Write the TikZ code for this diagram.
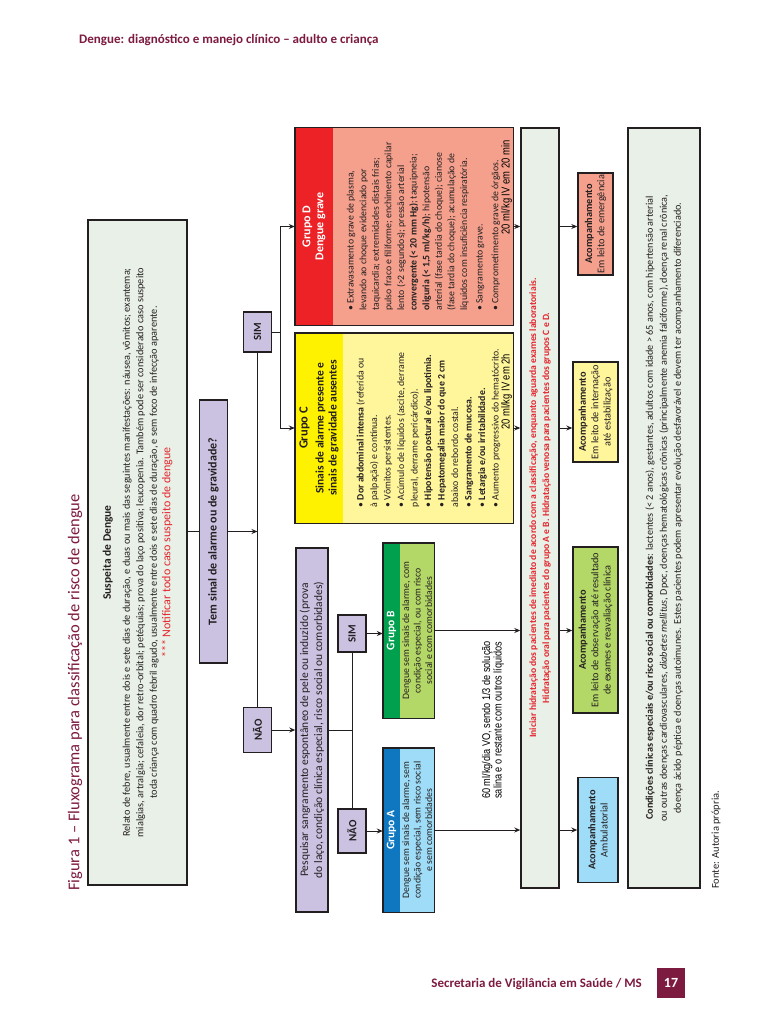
\documentclass[tikz,border=0pt]{standalone}
\usepackage{fontspec}
\setmainfont{Carlito}
\newfontfamily\narrowfont[FakeStretch=0.82]{Liberation Sans}
\usetikzlibrary{arrows.meta,positioning,calc}

\definecolor{maroon}{HTML}{7D1A3F}
\definecolor{inkgray}{HTML}{231F20}
\definecolor{palegreen}{HTML}{E9F0E7}
\definecolor{lilac}{HTML}{CBC2E2}
\definecolor{blueHead}{HTML}{0E77C0}
\definecolor{blueBody}{HTML}{9EDCF7}
\definecolor{greenHead}{HTML}{00A04F}
\definecolor{greenBody}{HTML}{B4D867}
\definecolor{yellowHead}{HTML}{FFF200}
\definecolor{yellowBody}{HTML}{FFF59B}
\definecolor{redHead}{HTML}{EC2227}
\definecolor{redBody}{HTML}{F5A08D}
\definecolor{alertred}{HTML}{E3262D}

\tikzset{
  rbox/.style={rotate=90, inner sep=2pt, align=center, text=inkgray},
  panel/.style={rbox, draw=inkgray, line width=1.4pt, fill=palegreen},
  query/.style={rbox, draw=inkgray, line width=1.4pt, fill=lilac},
  answer/.style={query, font=\bfseries\fontsize{11}{13}\selectfont, minimum height=28pt},
  head/.style={rbox, inner sep=0pt, text=white, font=\bfseries\fontsize{11.5}{13}\selectfont},
  body/.style={rbox, anchor=north, font=\fontsize{9.8}{11.5}\selectfont},
  frame/.style={draw=inkgray, line width=1.4pt},
  follow/.style={rbox, draw=inkgray, line width=1.4pt, font=\fontsize{10.3}{12.3}\selectfont},
  link/.style={draw=inkgray, line width=1pt},
  arr/.style={link, -{Stealth[length=6pt,width=5pt]}},
  dose/.style={rotate=90, inner sep=0pt, font=\narrowfont\fontsize{11.5}{11}\selectfont},
}

\begin{document}
\begin{tikzpicture}[x=1pt,y=-1pt]
  \useasboundingbox (0,0) rectangle (768,1024);
  \fill[white] (0,0) rectangle (768,1024);

  % page furniture
  \node[anchor=west, inner sep=0pt, text=maroon, font=\bfseries\fontsize{13}{15}\selectfont] (runhead) at (79,40) {Dengue: diagnóstico e manejo clínico – adulto e criança};
  \node[rotate=90, anchor=west, inner sep=0pt, text=maroon, font=\fontsize{16.5}{18}\selectfont] (figtitle) at (75,891) {Figura 1 – Fluxograma para classificação de risco de dengue};
  \node[rotate=90, anchor=west, inner sep=0pt, text=inkgray, font=\fontsize{10.5}{12}\selectfont] (fonte) at (716,889) {Fonte: Autoria própria.};
  \node[anchor=east, inner sep=0pt, text=maroon, font=\bfseries\fontsize{13}{15}\selectfont] (foot) at (642,984) {Secretaria de Vigilância em Saúde / MS};
  \node[fill=maroon, text=white, inner sep=0pt, font=\bfseries\fontsize{14}{16}\selectfont, minimum width=28pt, minimum height=30pt] (pgnum) at (671,983) {17};

  % suspicion and first question
  \node[panel, minimum width=665pt, minimum height=99pt, font=\fontsize{10.3}{13.5}\selectfont] (susp) at (137.5,552.5)
    {{\bfseries\fontsize{11.5}{13.5}\selectfont Suspeita de Dengue}\\[5.5pt]
     Relato de febre, usualmente entre dois e sete dias de duração, e duas ou mais das seguintes manifestações: náusea, vômitos; exantema;\\
     mialgias, artralgia; cefaleia, dor retro-orbital; petéquias; prova do laço positiva; leucopenia. Também pode ser considerado caso suspeito\\
     toda criança com quadro febril agudo, usualmente entre dois e sete dias de duração, e sem foco de infecção aparente.\\
     \textcolor{alertred}{\fontsize{12}{13.5}\selectfont *** Notificar todo caso suspeito de dengue}};
  \node[query, minimum width=263pt, minimum height=28pt, font=\bfseries\fontsize{12}{14}\selectfont] (alarm) at (213.5,531.5) {Tem sinal de alarme ou de gravidade?};
  \node[answer, minimum width=40pt] (sim1) at (257.5,332) {SIM};
  \node[answer, minimum width=45pt] (nao1) at (257.5,730) {NÃO};

  % second question
  \node[query, minimum width=364pt, minimum height=32pt, font=\fontsize{11.5}{14}\selectfont] (probe) at (312,730)
    {Pesquisar sangramento espontâneo de pele ou induzido (prova\\do laço, condição clínica especial, risco social ou comorbidades)};
  \node[answer, minimum width=37pt] (sim2) at (352,633.5) {SIM};
  \node[answer, minimum width=44pt] (nao2) at (352,831) {NÃO};

  % group A
  \node[head, fill=blueHead, minimum width=164pt, minimum height=17pt] (hdA) at (391.5,830) {Grupo A};
  \node[body, fill=blueBody, minimum width=164pt, minimum height=32pt] (bdA) at (hdA.south)
    {Dengue sem sinais de alarme, sem\\condição especial, sem risco social\\e sem comorbidades};
  \draw[frame] (hdA.north west) rectangle (bdA.south east);

  % group B
  \node[head, fill=greenHead, minimum width=175pt, minimum height=17pt] (hdB) at (391.5,630.5) {Grupo B};
  \node[body, fill=greenBody, minimum width=175pt, minimum height=32pt] (bdB) at (hdB.south)
    {Dengue sem sinais de alarme, com\\condição especial, ou com risco\\social e com comorbidades};
  \draw[frame] (hdB.north west) rectangle (bdB.south east);

  % group C
  \node[head, fill=yellowHead, text=inkgray, minimum width=190pt, minimum height=48pt] (hdC) at (319,428)
    {{\fontsize{12.5}{13}\selectfont Grupo C}\\[3pt]Sinais de alarme presente e\\sinais de gravidade ausentes};
  \node[body, fill=yellowBody, align=left, minimum width=190pt, minimum height=170pt, font=\fontsize{9.8}{13.5}\selectfont] (bdC) at (hdC.south)
    {• \textbf{Dor abdominal intensa} (referida ou\\
     à palpação) e contínua.\\
     • Vômitos persistentes.\\
     • Acúmulo de líquidos (ascite, derrame\\
     pleural, derrame pericárdico).\\
     • \textbf{Hipotensão postural e/ou lipotimia.}\\
     • \textbf{Hepatomegalia maior do que 2 cm}\\
     abaixo do rebordo costal.\\
     • \textbf{Sangramento de mucosa.}\\
     • \textbf{Letargia e/ou irritabilidade.}\\
     • Aumento progressivo do hematócrito.};
  \draw[frame] (hdC.north west) rectangle (bdC.south east);

  % group D
  \node[head, fill=redHead, minimum width=197pt, minimum height=38pt, font=\bfseries\fontsize{12}{13}\selectfont] (hdD) at (314,226.5)
    {Grupo D\\Dengue grave};
  \node[body, fill=redBody, align=left, minimum width=197pt, minimum height=180pt, font=\fontsize{9.8}{12.6}\selectfont] (bdD) at (hdD.south)
    {• Extravasamento grave de plasma,\\
     levando ao choque evidenciado por\\
     taquicardia; extremidades distais frias;\\
     pulso fraco e filiforme; enchimento capilar\\
     lento (>2 segundos); pressão arterial\\
     \textbf{convergente (< 20 mm Hg)}; taquipneia;\\
     \textbf{oliguria (< 1,5 ml/kg/h)}; hipotensão\\
     arterial (fase tardia do choque); cianose\\
     (fase tardia do choque); acumulação de\\
     líquidos com insuficiência respiratória.\\[3pt]
     • Sangramento grave.\\[3pt]
     • Comprometimento grave de órgãos.};
  \draw[frame] (hdD.north west) rectangle (bdD.south east);

  % hydration strip
  \node[panel, minimum width=760pt, minimum height=38pt, text=alertred, font=\bfseries\fontsize{9.6}{13}\selectfont] (hydr) at (540,508)
    {Iniciar hidratação dos pacientes de imediato de acordo com a classificação, enquanto aguarda exames laboratoriais.\\
     Hidratação oral para pacientes do grupo A e B. Hidratação venosa para pacientes dos grupos C e D.};

  % follow-up
  \node[follow, fill=blueBody, minimum width=105pt, minimum height=40pt] (acA) at (598,830) {\textbf{Acompanhamento}\\Ambulatorial};
  \node[follow, fill=greenBody, minimum width=166pt, minimum height=45pt] (acB) at (595.5,630) {\textbf{Acompanhamento}\\Em leito de observação até resultado\\de exames e reavaliação clínica};
  \node[follow, fill=yellowBody, minimum width=100pt, minimum height=45pt] (acC) at (595.5,412) {\textbf{Acompanhamento}\\Em leito de internação\\até estabilização};
  \node[follow, fill=redBody, minimum width=92pt, minimum height=35pt] (acD) at (595.5,224) {\textbf{Acompanhamento}\\Em leito de emergência};

  % conditions
  \node[panel, minimum width=760pt, minimum height=72pt, font=\fontsize{10.2}{14}\selectfont] (cond) at (664,508)
    {\textbf{Condições clínicas especiais e/ou risco social ou comorbidades}: lactentes (< 2 anos), gestantes, adultos com idade > 65 anos, com hipertensão arterial\\
     ou outras doenças cardiovasculares, \textit{diabetes mellitus}, Dpoc, doenças hematológicas crônicas (principalmente anemia falciforme), doença renal crônica,\\
     doença ácido péptica e doenças autoimunes. Estes pacientes podem apresentar evolução desfavorável e devem ter acompanhamento diferenciado.};

  % dose labels
  \node[dose, anchor=west] (doseC) at ($(bdC.south)+(-7,2)$) {20 ml/kg IV em 2h};
  \node[dose, anchor=west] (doseD) at ($(bdD.south)+(-7,8)$) {20 ml/kg IV em 20 min};
  \node[dose, align=center, font=\narrowfont\fontsize{11.2}{11.5}\selectfont] (doseAB) at (493,720)
    {60 ml/kg/dia VO, sendo 1/3 de solução\\salina e o restante com outros líquidos};

  % connectors
  \draw[link] (susp.south |- alarm.north) -- (alarm.north);
  \draw[link] (sim1.west) -- (nao1.east);
  \draw[arr] (alarm.south) -- (alarm.south -| sim1.west);
  \coordinate (forkCD) at ($(sim1.south)+(8,0)$);
  \draw[link] (sim1.south) -- (forkCD);
  \draw[arr] (forkCD) |- (hdD.north);
  \draw[arr] (forkCD) |- (hdC.north);
  \draw[arr] (nao1.south) -- (probe.north);
  \draw[link] (sim2.west) -- (nao2.east);
  \draw[link] (probe.south) -- (probe.south -| sim2.west);
  \draw[arr] (sim2.south) -- (sim2.south -| hdB.north);
  \draw[arr] (nao2.south) -- (nao2.south -| hdA.north);
  \foreach \g in {A,B,C,D}{
    \draw[arr] (bd\g.south) -- (bd\g.south -| hydr.north);
    \draw[arr] (hydr.south |- bd\g.south) -- (ac\g.north |- bd\g.south);
  }
\end{tikzpicture}
\end{document}
